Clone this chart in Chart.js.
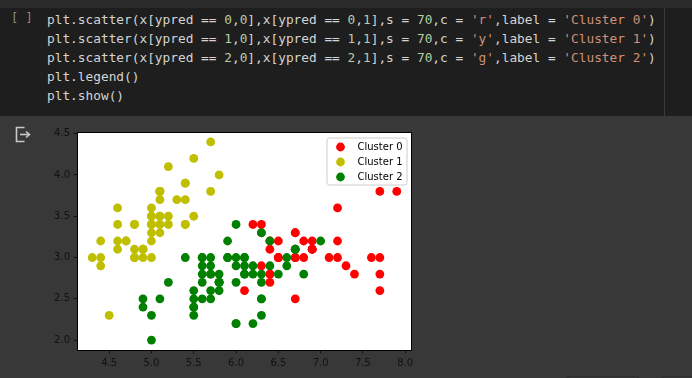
<!DOCTYPE html>
<html>
<head>
<meta charset="utf-8">
<script src="https://cdn.jsdelivr.net/npm/chart.js@4.4.0/dist/chart.umd.min.js"></script>
<style>
  html, body { margin: 0; padding: 0; width: 692px; height: 378px; overflow: hidden; background: #383838; }
  #cell { position: absolute; left: 0; top: 0; width: 692px; height: 116px; background: #1e1e1e; }
  #band { position: absolute; left: 0; top: 0; width: 692px; height: 8px; background: #2a2a2a; }
  #edge { position: absolute; left: 664px; top: 8px; width: 1px; height: 108px; background: #3a3a3a; }
  #run { position: absolute; left: 11px; top: 11px; font: 12px "DejaVu Sans Mono", monospace; color: #8a8a8a; white-space: pre; }
  #code { position: absolute; left: 47px; top: 10px; margin: 0; font: 12.8px/19.1px "DejaVu Sans Mono", monospace; color: #d4d4d4; white-space: pre; }
  .n { color: #b5cea8; }
  .s { color: #ce9178; }
  #icon { position: absolute; left: 15px; top: 126px; }
  #wrap { position: absolute; left: 0; top: 110px; width: 440px; height: 268px; }
  .btn { position: absolute; top: 376px; height: 6px; border: 1px solid #2e2e2e; border-radius: 4px; }
</style>
</head>
<body>
<div id="cell"></div>
<div id="band"></div>
<div id="edge"></div>
<div id="run">[ ]</div>
<pre id="code">plt.scatter(x[ypred == <span class="n">0</span>,<span class="n">0</span>],x[ypred == <span class="n">0</span>,<span class="n">1</span>],s = <span class="n">70</span>,c = <span class="s">'r'</span>,label = <span class="s">'Cluster 0'</span>)
plt.scatter(x[ypred == <span class="n">1</span>,<span class="n">0</span>],x[ypred == <span class="n">1</span>,<span class="n">1</span>],s = <span class="n">70</span>,c = <span class="s">'y'</span>,label = <span class="s">'Cluster 1'</span>)
plt.scatter(x[ypred == <span class="n">2</span>,<span class="n">0</span>],x[ypred == <span class="n">2</span>,<span class="n">1</span>],s = <span class="n">70</span>,c = <span class="s">'g'</span>,label = <span class="s">'Cluster 2'</span>)
plt.legend()
plt.show()</pre>
<svg id="icon" width="18" height="18" viewBox="0 0 18 18">
  <path d="M9.5 1.5 H1.5 V15.5 H9.5" fill="none" stroke="#c8c8c8" stroke-width="1.6"/>
  <path d="M5 8.5 H14" fill="none" stroke="#c8c8c8" stroke-width="1.6"/>
  <path d="M11 5.5 L14.5 8.5 L11 11.5" fill="none" stroke="#c8c8c8" stroke-width="1.6"/>
</svg>
<div id="wrap"><canvas id="scatter" width="440" height="268"></canvas></div>
<div class="btn" style="left:566px;width:72px;"></div>
<div class="btn" style="left:661px;width:40px;"></div>
<script>
// cluster 0 (red)
var c0x = [6.9, 6.7, 6.3, 7.1, 6.3, 6.5, 7.6, 7.3, 6.7, 7.2, 6.5, 6.4, 6.8, 6.4, 6.5, 7.7, 7.7, 6.9, 7.7,
           6.7, 7.2, 6.4, 7.2, 7.4, 7.9, 6.4, 6.1, 7.7, 6.3, 6.4, 6.9, 6.7, 6.9, 6.8, 6.7, 6.7, 6.5, 6.2];
var c0y = [3.1, 3.0, 3.3, 3.0, 2.9, 3.0, 3.0, 2.9, 2.5, 3.6, 3.2, 2.7, 3.0, 3.2, 3.0, 3.8, 2.6, 3.2, 2.8,
           3.3, 3.2, 2.8, 3.0, 2.8, 3.8, 2.8, 2.6, 3.0, 3.4, 3.1, 3.1, 3.1, 3.1, 3.2, 3.3, 3.0, 3.0, 3.4];
// cluster 1 (yellow)
var c1x = [5.1, 4.9, 4.7, 4.6, 5.0, 5.4, 4.6, 5.0, 4.4, 4.9, 5.4, 4.8, 4.8, 4.3, 5.8, 5.7, 5.4, 5.1, 5.7, 5.1,
           5.4, 5.1, 4.6, 5.1, 4.8, 5.0, 5.0, 5.2, 5.2, 4.7, 4.8, 5.4, 5.2, 5.5, 4.9, 5.0, 5.5, 4.9, 4.4, 5.1,
           5.0, 4.5, 4.4, 5.0, 5.1, 4.8, 5.1, 4.6, 5.3, 5.0];
var c1y = [3.5, 3.0, 3.2, 3.1, 3.6, 3.9, 3.4, 3.4, 2.9, 3.1, 3.7, 3.4, 3.0, 3.0, 4.0, 4.4, 3.9, 3.5, 3.8, 3.8,
           3.4, 3.7, 3.6, 3.3, 3.4, 3.0, 3.4, 3.5, 3.4, 3.2, 3.1, 3.4, 4.1, 4.2, 3.1, 3.2, 3.5, 3.1, 3.0, 3.4,
           3.5, 2.3, 3.2, 3.5, 3.8, 3.0, 3.8, 3.2, 3.7, 3.3];
// cluster 2 (green)
var c2x = [7.0, 6.4, 5.5, 6.5, 5.7, 6.3, 4.9, 6.6, 5.2, 5.0, 5.9, 6.0, 6.1, 5.6, 6.7, 5.6, 5.8, 6.2, 5.6, 5.9,
           6.1, 6.3, 6.1, 6.4, 6.6, 6.8, 6.0, 5.7, 5.5, 5.5, 5.8, 6.0, 5.4, 6.0, 6.7, 6.3, 5.6, 5.5, 5.5, 6.1,
           5.8, 5.0, 5.6, 5.7, 5.7, 6.2, 5.1, 5.7, 5.8, 4.9, 5.7, 5.8, 6.0, 5.6, 6.3, 6.2, 6.1, 6.3, 6.0, 5.8,
           6.3, 5.9];
var c2y = [3.2, 3.2, 2.3, 2.8, 2.8, 3.3, 2.4, 2.9, 2.7, 2.0, 3.0, 2.2, 2.9, 2.9, 3.1, 3.0, 2.7, 2.2, 2.5, 3.2,
           2.8, 2.5, 2.8, 2.9, 3.0, 2.8, 2.9, 2.6, 2.4, 2.4, 2.7, 2.7, 3.0, 3.4, 3.1, 2.3, 3.0, 2.5, 2.6, 3.0,
           2.6, 2.3, 2.7, 3.0, 2.9, 2.9, 2.5, 2.8, 2.7, 2.5, 2.5, 2.8, 2.2, 2.8, 2.7, 2.8, 3.0, 2.8, 3.0, 2.7,
           2.5, 3.0];

var clusterLabels = ['Cluster 0', 'Cluster 1', 'Cluster 2'];
var clusterColors = ['#ff0000', '#bfbf00', '#008000'];
var xTicks = [4.5, 5.0, 5.5, 6.0, 6.5, 7.0, 7.5, 8.0];
var yTicks = [2.0, 2.5, 3.0, 3.5, 4.0, 4.5];

function pts(xs, ys) {
  return xs.map(function(v, i) { return {x: v, y: ys[i]}; });
}

// axes frame + matplotlib-style legend
var mplFrame = {
  id: 'mplFrame',
  beforeDatasetsDraw: function(chart) {
    var a = chart.chartArea, ctx = chart.ctx;
    ctx.save();
    ctx.fillStyle = '#ffffff';
    ctx.fillRect(a.left, a.top, a.right - a.left, a.bottom - a.top);
    ctx.restore();
  },
  afterDraw: function(chart) {
    var a = chart.chartArea, ctx = chart.ctx;
    ctx.save();
    ctx.strokeStyle = '#000000';
    ctx.lineWidth = 1;
    ctx.strokeRect(a.left + 0.5, a.top + 0.5, a.right - a.left - 1, a.bottom - a.top);

    var bw = 80, bh = 47;
    var bx = a.right - 5.5 - bw, by = a.top + 5.5;
    ctx.beginPath();
    ctx.roundRect(bx + 0.5, by + 0.5, bw, bh, 2.5);
    ctx.fillStyle = 'rgba(255,255,255,0.8)';
    ctx.fill();
    ctx.strokeStyle = '#cccccc';
    ctx.stroke();
    ctx.font = '10px "DejaVu Sans"';
    ctx.textBaseline = 'middle';
    chart.data.datasets.forEach(function(ds, i) {
      var cy = by + 9.5 + i * 15;
      ctx.beginPath();
      ctx.arc(bx + 14, cy, 4.4, 0, Math.PI * 2);
      ctx.fillStyle = ds.backgroundColor;
      ctx.fill();
      ctx.fillStyle = '#000000';
      ctx.fillText(ds.label, bx + 31, cy);
    });
    ctx.restore();
  }
};

function makeChart() {
  var datasets = [pts(c0x, c0y), pts(c1x, c1y), pts(c2x, c2y)].map(function(d, i) {
    return {
      label: clusterLabels[i],
      data: d,
      backgroundColor: clusterColors[i],
      borderWidth: 0,
      pointRadius: 4.4,
      pointHoverRadius: 4.4,
      order: 3 - i   // later clusters drawn on top, like matplotlib
    };
  });

  var tickFont = {family: 'DejaVu Sans', size: 10};
  new Chart('scatter', {
    type: 'scatter',
    data: {datasets: datasets},
    plugins: [mplFrame],
    options: {
      responsive: false,
      animation: false,
      layout: {padding: {top: 22, right: 28, left: 0, bottom: 0}},
      plugins: {legend: {display: false}, tooltip: {enabled: false}},
      scales: {
        x: {
          type: 'linear',
          min: 4.12, max: 8.08,
          afterBuildTicks: function(s) { s.ticks = xTicks.map(function(v) { return {value: v}; }); },
          afterFit: function(s) { s.height = 28; },
          grid: {drawOnChartArea: false, tickLength: 3.5, tickColor: '#111111', tickWidth: 1},
          border: {display: false},
          ticks: {font: tickFont, color: '#111111', padding: 3.5, maxRotation: 0,
                  callback: function(v) { return v.toFixed(1); }}
        },
        y: {
          type: 'linear',
          min: 1.88, max: 4.52,
          afterBuildTicks: function(s) { s.ticks = yTicks.map(function(v) { return {value: v}; }); },
          afterFit: function(s) { s.width = 77; },
          grid: {drawOnChartArea: false, tickLength: 3.5, tickColor: '#111111', tickWidth: 1},
          border: {display: false},
          ticks: {font: tickFont, color: '#111111', padding: 3.5,
                  callback: function(v) { return v.toFixed(1); }}
        }
      }
    }
  });
}

makeChart();
</script>
</body>
</html>
